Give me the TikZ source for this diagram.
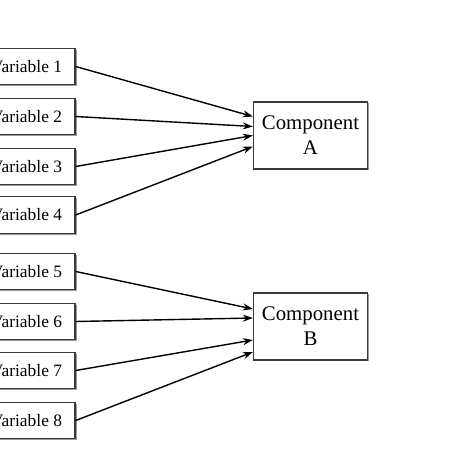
\documentclass[tikz,border=0pt]{standalone}
\usepackage{fontspec}
\setmainfont{Liberation Serif}
\usepackage{xcolor}
\definecolor{boxline}{HTML}{3A3A3A}
\definecolor{boxshade}{HTML}{9A9A9A}
\usepackage{tikz}
\usetikzlibrary{arrows.meta, positioning, calc, shadows}

\begin{document}
\begin{tikzpicture}[
  x=1pt, y=1pt,
  font=\fontsize{17.4}{21}\selectfont,
  varbox/.style={
    rectangle, draw=boxline, fill=white, line width=1.3pt,
    minimum width=97pt, minimum height=36.5pt, inner sep=0pt,
    drop shadow={shadow xshift=1.5pt, shadow yshift=-1.5pt,
      fill=boxshade, opacity=1}
  },
  compbox/.style={
    varbox, minimum width=114pt, minimum height=67pt, align=center,
    font=\fontsize{20.8}{25}\selectfont
  },
  feed/.style={-{Stealth[length=10pt, width=7pt]}, line width=1.4pt, black}
]
  \useasboundingbox (0,0) rectangle (474,474);

  % variables
  \node[varbox] (v1) at (26.5,407.5) {Variable 1};
  \node[varbox] (v2) at (26.5,357.5) {Variable 2};
  \node[varbox] (v3) at (26.5,307.5) {Variable 3};
  \node[varbox] (v4) at (26.5,259) {Variable 4};
  \node[varbox] (v5) at (26.5,202.5) {Variable 5};
  \node[varbox] (v6) at (26.5,152.5) {Variable 6};
  \node[varbox] (v7) at (26.5,103.5) {Variable 7};
  \node[varbox] (v8) at (26.5,53.5) {Variable 8};

  % components
  \node[compbox] (A) at (310.5,338.5) {Component\\A};
  \node[compbox] (B) at (310.5,147.5) {Component\\B};

  \draw[feed] (v1.east) -- ($(A.west)+(0,19)$);
  \draw[feed] (v2.east) -- ($(A.west)+(0,9)$);
  \draw[feed] (v3.east) -- ($(A.west)+(0,0)$);
  \draw[feed] (v4.east) -- ($(A.west)+(0,-11)$);

  \draw[feed] (v5.east) -- ($(B.west)+(0,17.5)$);
  \draw[feed] (v6.east) -- ($(B.west)+(0,8.5)$);
  \draw[feed] (v7.east) -- ($(B.west)+(0,-13.5)$);
  \draw[feed] (v8.east) -- ($(B.west)+(0,-25.5)$);
\end{tikzpicture}
\end{document}
